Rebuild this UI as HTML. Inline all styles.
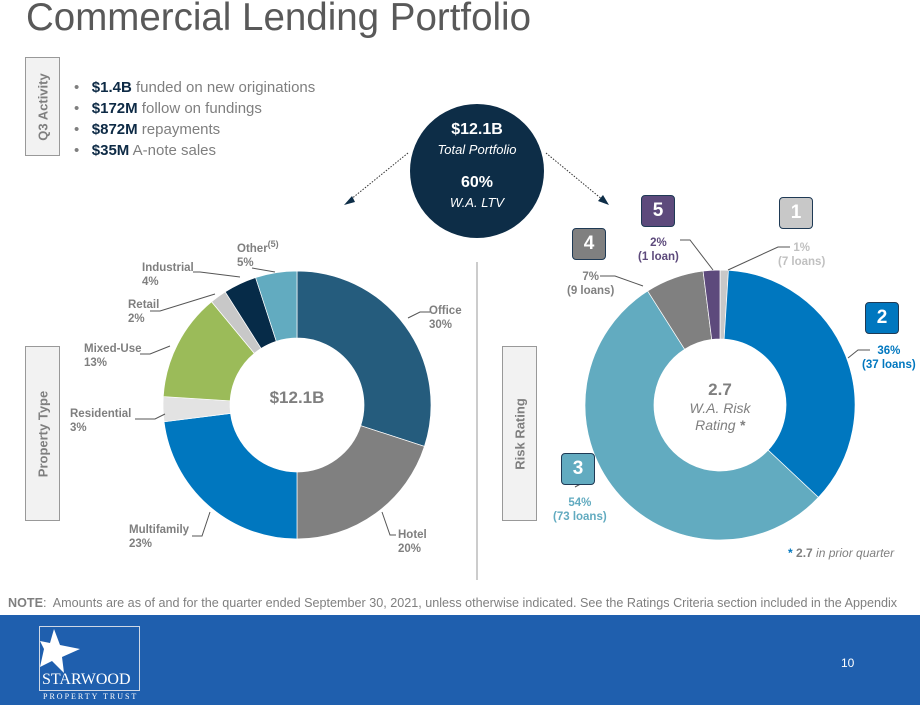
<!DOCTYPE html>
<html><head><meta charset="utf-8">
<style>
body{margin:0;width:920px;height:705px;overflow:hidden;background:#fff;font-family:"Liberation Sans",sans-serif;position:relative}
.a{position:absolute}
.lbl{position:absolute;font-size:11.5px;font-weight:bold;color:#7f7f7f;line-height:14px}
.box{position:absolute;border-radius:4px;border:1.5px solid #1f3a55;color:#fff;font-weight:bold;font-size:19px;text-align:center;line-height:30px;width:32px;height:30px}
.side{position:absolute;background:#f2f2f2;border:1.5px solid #999;}
.side span{position:absolute;left:50%;top:50%;transform:translate(-50%,-50%) rotate(-90deg);white-space:nowrap;font-weight:bold;color:#7f7f7f;font-size:13px}
</style></head><body>
<div class="a" style="left:26px;top:-4px;font-size:38.5px;color:#595959">Commercial Lending Portfolio</div>
<div class="side" style="left:25px;top:57px;width:33px;height:97px"><span>Q3 Activity</span></div>
<div class="a" style="left:74px;top:77px;font-size:15px;color:#7f7f7f;line-height:21px">
<div>•&nbsp;&nbsp; <b style="color:#0d2a45">$1.4B</b> funded on new originations</div>
<div>•&nbsp;&nbsp; <b style="color:#0d2a45">$172M</b> follow on fundings</div>
<div>•&nbsp;&nbsp; <b style="color:#0d2a45">$872M</b> repayments</div>
<div>•&nbsp;&nbsp; <b style="color:#0d2a45">$35M</b> A-note sales</div></div>
<div class="a" style="left:410px;top:104px;width:134px;height:134px;border-radius:50%;background:#0d2d47;color:#fff;text-align:center">
<div style="margin-top:17px;font-weight:bold;font-size:16px">$12.1B</div><div style="font-style:italic;font-size:13px;margin-top:3px">Total Portfolio</div>
<div style="margin-top:17px;font-weight:bold;font-size:16px">60%</div><div style="font-style:italic;font-size:13px;margin-top:3px">W.A. LTV</div></div>
<svg class="a" style="left:0;top:0" width="920" height="705">
<line x1="408" y1="153" x2="350" y2="200" stroke="#333" stroke-dasharray="1.5,1.5"/><polygon points="344,205 352,196 355,202" fill="#0d2d47"/>
<line x1="546" y1="153" x2="603" y2="200" stroke="#333" stroke-dasharray="1.5,1.5"/><polygon points="609,205 598,201 603,195" fill="#0d2d47"/>
<line x1="477" y1="262" x2="477" y2="580" stroke="#999"/>
<g id="left"></g>
<g id="right"></g>
<g stroke="#555" fill="none" stroke-width="1">
<polyline points="408,318 420,312 430,312"/><polyline points="382,512 390,535 396,535"/><polyline points="210,512 202,536 192,536"/>
<polyline points="165,414 155,419 135,419"/><polyline points="170,346 150,354 140,354"/><polyline points="215,294 160,311 150,311"/><polyline points="240,277 200,272 193,272"/><polyline points="275,272 252,268"/>
<polyline points="643,286 615,276 600,276"/><polyline points="713,270 690,240 680,240"/><polyline points="728,270 778,247 790,247"/><polyline points="848,358 858,350 870,350"/><polyline points="588,480 575,487"/>
</g></svg>
<div class="lbl" style="left:237px;top:237px">Other<sup style="font-size:9px">(5)</sup><br>5%</div>
<div class="lbl" style="left:142px;top:261px">Industrial<br>4%</div>
<div class="lbl" style="left:128px;top:298px">Retail<br>2%</div>
<div class="lbl" style="left:84px;top:342px">Mixed-Use<br>13%</div>
<div class="lbl" style="left:70px;top:407px">Residential<br>3%</div>
<div class="lbl" style="left:129px;top:523px">Multifamily<br>23%</div>
<div class="lbl" style="left:398px;top:528px">Hotel<br>20%</div>
<div class="lbl" style="left:429px;top:304px">Office<br>30%</div>
<div class="a" style="left:255px;top:388px;width:84px;text-align:center;font-size:17px;font-weight:bold;color:#7f7f7f">$12.1B</div>
<div class="side" style="left:25px;top:346px;width:33px;height:173px"><span>Property Type</span></div>
<div class="side" style="left:502px;top:346px;width:33px;height:173px"><span>Risk Rating</span></div>
<div class="box" style="left:779px;top:197px;background:#c8c8c8">1</div>
<div class="box" style="left:865px;top:302px;background:#0077bf">2</div>
<div class="box" style="left:561px;top:453px;background:#62abc0">3</div>
<div class="box" style="left:572px;top:228px;background:#808080">4</div>
<div class="box" style="left:641px;top:195px;background:#5d4a7c">5</div>
<div class="lbl" style="left:778px;top:241px;color:#c0c0c0;text-align:center">1%<br>(7 loans)</div>
<div class="lbl" style="left:638px;top:236px;color:#5d4a7c;text-align:center">2%<br>(1 loan)</div>
<div class="lbl" style="left:567px;top:270px;color:#808080;text-align:center">7%<br>(9 loans)</div>
<div class="lbl" style="left:862px;top:344px;color:#0077bf;text-align:center">36%<br>(37 loans)</div>
<div class="lbl" style="left:553px;top:496px;color:#62abc0;text-align:center">54%<br>(73 loans)</div>
<div class="a" style="left:660px;top:380px;width:120px;text-align:center;color:#7f7f7f"><div style="font-size:17px;font-weight:bold">2.7</div><div style="font-style:italic;font-size:14px;line-height:17px">W.A. Risk<br>Rating <b>*</b></div></div>
<div class="a" style="left:788px;top:546px;font-size:12px;font-style:italic;color:#7f7f7f"><b style="color:#0077bf;font-style:normal">*</b> <b style="font-style:normal">2.7</b> in prior quarter</div>
<div class="a" style="left:8px;top:596px;font-size:12.6px;color:#7f7f7f;white-space:nowrap"><b>NOTE</b>:&nbsp; Amounts are as of and for the quarter ended September 30, 2021, unless otherwise indicated. See the Ratings Criteria section included in the Appendix</div>
<div class="a" style="left:0;top:615px;width:920px;height:90px;background:#1f5fae">
<div class="a" style="left:39px;top:11px;width:99px;height:63px;border:1px solid #cfd8e6">
<svg width="42" height="46" style="position:absolute;left:0;top:0"><polygon points="14,2 20,18 40,22 22,30 24,46 12,34 0,40 4,22 0,14 10,16" fill="#fff"/></svg>
<div class="a" style="left:2px;top:44px;font-family:'Liberation Serif',serif;color:#fff;font-size:16px">STARWOOD</div></div>
<div class="a" style="left:43px;top:77px;font-family:'Liberation Serif',serif;color:#fff;font-size:8px;letter-spacing:2px">PROPERTY TRUST</div>
<div class="a" style="left:841px;top:41px;color:#fff;font-size:12px">10</div></div>
<script>
const leftCats=["Office","Hotel","Multifamily","Residential","Mixed-Use","Retail","Industrial","Other"];
const leftVals=[30,20,23,3,13,2,4,5];
const leftColors=["#255c7d","#808080","#0077bf","#e3e3e3","#9bbb59","#c8c8c8","#062b48","#62abc0"];
const rightCats=["1","2","3","4","5"];
const rightVals=[1,36,54,7,2];
const rightColors=["#c8c8c8","#0077bf","#62abc0","#808080","#5d4a7c"];
function donut(g,cats,vals,cols,cx,cy,R,r){
 const tot=vals.reduce((a,b)=>a+b,0);let a0=0;
 vals.forEach((v,i)=>{const a1=a0+v/tot*2*Math.PI;
  const p=(a,rr)=>[cx+rr*Math.sin(a),cy-rr*Math.cos(a)];
  const [x0,y0]=p(a0,R),[x1,y1]=p(a1,R),[x2,y2]=p(a1,r),[x3,y3]=p(a0,r);const L=(a1-a0)>Math.PI?1:0;
  const el=document.createElementNS("http://www.w3.org/2000/svg","path");
  el.setAttribute('d',`M${x0},${y0}A${R},${R} 0 ${L} 1 ${x1},${y1}L${x2},${y2}A${r},${r} 0 ${L} 0 ${x3},${y3}Z`);
  el.setAttribute('fill',cols[i]);el.setAttribute('stroke','#fff');el.setAttribute('stroke-width','0.7');
  
  
  g.appendChild(el);a0=a1;});
}
donut(document.getElementById('left'),leftCats,leftVals,leftColors,297,405,134,67);
donut(document.getElementById('right'),rightCats,rightVals,rightColors,720,405,135,66);
</script>
</body></html>
